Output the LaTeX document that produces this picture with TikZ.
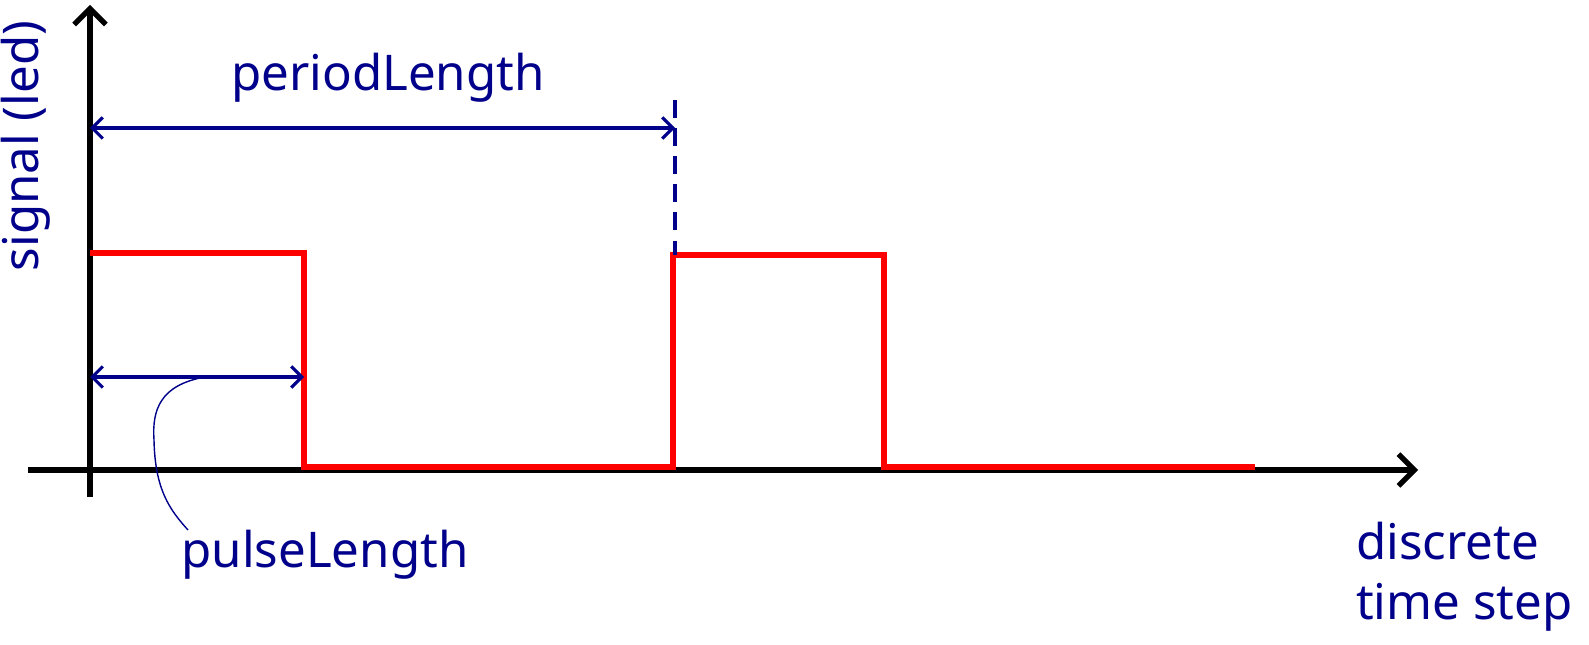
\documentclass[tikz,border=0pt]{standalone}
\usepackage{fontspec}
\setmainfont{Noto Sans}
\usetikzlibrary{arrows.meta}
\definecolor{navy}{RGB}{0,0,139}
\tikzset{
  axis/.style={line width=3pt, -{Straight Barb[length=9pt,width=18pt,line width=3pt]}},
  measure/.style={navy, line width=1.8pt, {Straight Barb[length=6pt,width=12pt]}-{Straight Barb[length=6pt,width=12pt]}},
  signal/.style={red, line width=3pt},
  lbl/.style={navy, font=\fontsize{28}{34}\selectfont}
}
\begin{document}
\begin{tikzpicture}[x=0.02cm, y=-0.02cm]
				% Axes
				\coordinate (O) at (90,497);
				\coordinate (T) at (90,5);
				\coordinate (L) at (28,470);
				\coordinate (R) at (1418,470);
				\draw[axis] (O) -- (T);
				\draw[axis] (L) -- (R);
				\node[lbl, rotate=90] (ylab) at (26,146) {signal (led)};
				\node[lbl, align=left, anchor=north west] (xlab) at (1350,516) {discrete\\time step};
				
				% Signal
				\draw[signal] (90,253) -- (304,253) -- (304,467) -- (673,467) -- (673,255) -- (884,255) -- (884,467) -- (1255,467);
				
				% Period
				\coordinate (P1) at (90,128);
				\coordinate (P2) at (675,128);
				\coordinate (D1) at (675,100);
				\coordinate (D2) at (675,255);
				\draw[measure] (P1) -- (P2);
				\draw[navy, line width=1.8pt, dash pattern=on 10pt off 6pt] (D1) -- (D2);
				\node[lbl] (period) at (388,78) {periodLength};
				
				% Pulse
				\coordinate (Q1) at (90,377);
				\coordinate (Q2) at (304,377);
				\draw[measure] (Q1) -- (Q2);
				\node[lbl] (pulse) at (325,555) {pulseLength};
				\coordinate (C1) at (205,377);
				\coordinate (C2) at (188,530);
				\draw[navy, line width=0.8pt] (C1) .. controls (160,385) and (152,410) .. (154,440)
				  .. controls (155,490) and (170,510) .. (C2);
				
				\pgfresetboundingbox
				\path[use as bounding box] (0,0) rectangle (1589,645);
\end{tikzpicture}
\end{document}
